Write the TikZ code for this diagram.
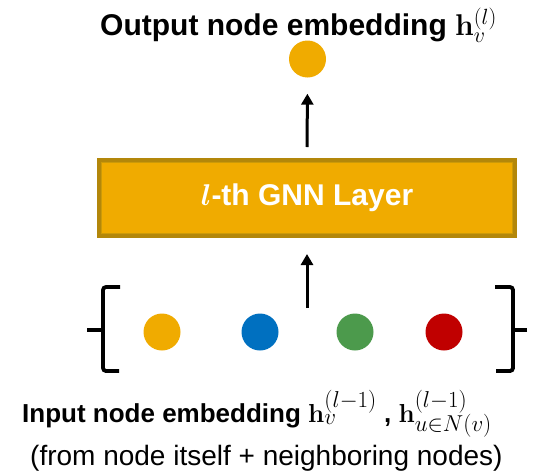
\RequirePackage{fix-cm}
\documentclass[tikz,border=0pt]{standalone}
\usepackage[no-math]{fontspec}
\setmainfont{Liberation Sans}
\DeclareMathSizes{30}{30}{22}{16}
\DeclareMathSizes{26}{26}{23}{17}
\usetikzlibrary{arrows.meta}
\definecolor{gold}{HTML}{F0AB00}
\definecolor{golddark}{HTML}{B3870A}
\definecolor{goldline}{HTML}{CC9A08}
\definecolor{nblue}{HTML}{0070C0}
\definecolor{ngreen}{HTML}{4C9A4C}
\definecolor{nred}{HTML}{C00000}
\tikzset{
  dot/.style={circle, minimum size=37pt, inner sep=0pt, draw=none},
  layer/.style={rectangle, fill=gold, draw=golddark, line width=5pt, minimum width=415pt, minimum height=75pt, inner sep=0pt, text=white},
  arr/.style={line width=3pt, -{Triangle[length=11pt,width=12pt]}},
  brk/.style={line width=3.8pt, rounded corners=3pt},
  lbl/.style={inner sep=0pt, anchor=base west}
}
\begin{document}
\begin{tikzpicture}[x=1pt,y=-1pt]
\useasboundingbox (0,0) rectangle (559,474);
% title
\node[lbl, font=\fontsize{30}{36}\selectfont\bfseries] (title) at (100,35) {Output node embedding $\mathbf{h}_v^{(l)}$};
% output node
\node[dot, fill=gold] (out) at (307.5,59) {};
% GNN layer box
\node[layer, font=\fontsize{30}{36}\selectfont\bfseries] (gnn) at (307,198) {{\boldmath$l$}-th GNN Layer};
\draw[goldline, line width=1.2pt] ([shift={(4.5,4.5)}]gnn.north west) rectangle ([shift={(-4.5,-4.5)}]gnn.south east);
% arrows
\draw[arr, shorten <=11pt, shorten >=16pt] (gnn.north) -- (out.south);
\coordinate (inp) at (307,308);
\draw[arr, shorten >=16pt] (inp) -- (gnn.south);
% input nodes
\node[dot, fill=gold]   (n1) at (162,332) {};
\node[dot, fill=nblue]  (n2) at (260,332) {};
\node[dot, fill=ngreen] (n3) at (355,332) {};
\node[dot, fill=nred]   (n4) at (444,332) {};
% brackets
\draw[brk] (120,287) -- (103,287) -- (103,371) -- (119,371);
\draw[brk] (87,330) -- (103,330);
\draw[brk] (495,287) -- (513,287) -- (513,371) -- (496,371);
\draw[brk] (527,330) -- (513,330);
% bottom text
\node[lbl, font=\fontsize{26}{31}\selectfont\bfseries] (in1) at (22,422) {Input node embedding $\mathbf{h}_v^{(l-1)}$\;, $\mathbf{h}_{u\in N(v)}^{(l-1)}$};
\node[lbl, font=\fontsize{28}{34}\selectfont] (in2) at (30,465) {(from node itself + neighboring nodes)};
\end{tikzpicture}
\end{document}
